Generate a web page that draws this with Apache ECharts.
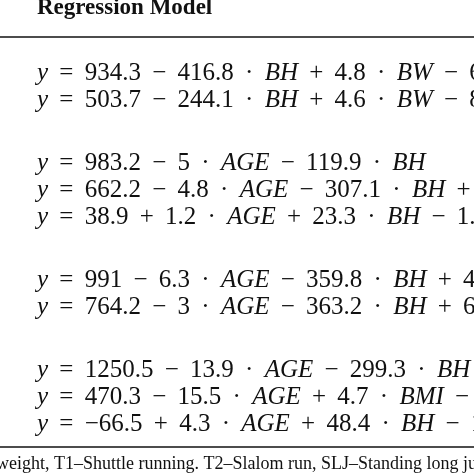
<!DOCTYPE html><html><head><meta charset="utf-8">
<script src="https://cdn.jsdelivr.net/npm/echarts@6/dist/echarts.min.js"></script>
<style>html,body{margin:0;padding:0;background:#fff}#c{width:474px;height:474px}</style></head><body><div id="c"></div>
<script>
const header = "Regression Model";
const rows = [
 "y = 934.3 − 416.8 · BH + 4.8 · BW − 6.8 · BMI",
 "y = 503.7 − 244.1 · BH + 4.6 · BW − 8.5 · BMI",
 "",
 "y = 983.2 − 5 · AGE − 119.9 · BH",
 "y = 662.2 − 4.8 · AGE − 307.1 · BH + 5.4 · BW",
 "y = 38.9 + 1.2 · AGE + 23.3 · BH − 1.3 · T1",
 "",
 "y = 991 − 6.3 · AGE − 359.8 · BH + 4.7 · BW",
 "y = 764.2 − 3 · AGE − 363.2 · BH + 6.4 · BW",
 "",
 "y = 1250.5 − 13.9 · AGE − 299.3 · BH + 2.1 · BW",
 "y = 470.3 − 15.5 · AGE + 4.7 · BMI − 0.4 · BW",
 "y = −66.5 + 4.3 · AGE + 48.4 · BH − 1 · BW"
];
const footnote = "weight, T1–Shuttle running. T2–Slalom run, SLJ–Standing long jump";
function rich(s){return s.replace(/[A-Za-z][A-Za-z0-9]*/g, m=>'{i|'+m+'}').replace(/ ([=+−·]) /g,' \u2009$1\u2009 ');}
const chart = echarts.init(document.getElementById('c'));
const els = [];
els.push({type:'text',left:37,top:-3,style:{text:header,font:'bold 23px "Liberation Serif", serif',fill:'#111'}});
els.push({type:'line',shape:{x1:0,y1:37,x2:474,y2:37},style:{stroke:'#111',lineWidth:1.5}});
let y = 61; const step = 27, gap = 36;
rows.forEach(r=>{
  if(!r){y+=gap;return;}
  els.push({type:'text',left:37,top:y,style:{text:rich(r),font:'25px "Liberation Serif", serif',fill:'#111',
    rich:{i:{fontStyle:'italic',fontSize:25,fontFamily:'Liberation Serif'}}}});
  y+=step;
});
els.push({type:'line',shape:{x1:0,y1:447,x2:474,y2:447},style:{stroke:'#111',lineWidth:1.5}});
els.push({type:'text',left:-4,top:455,style:{text:footnote,font:'18px "Liberation Serif", serif',fill:'#111'}});
chart.setOption({graphic:els});
</script></body></html>
